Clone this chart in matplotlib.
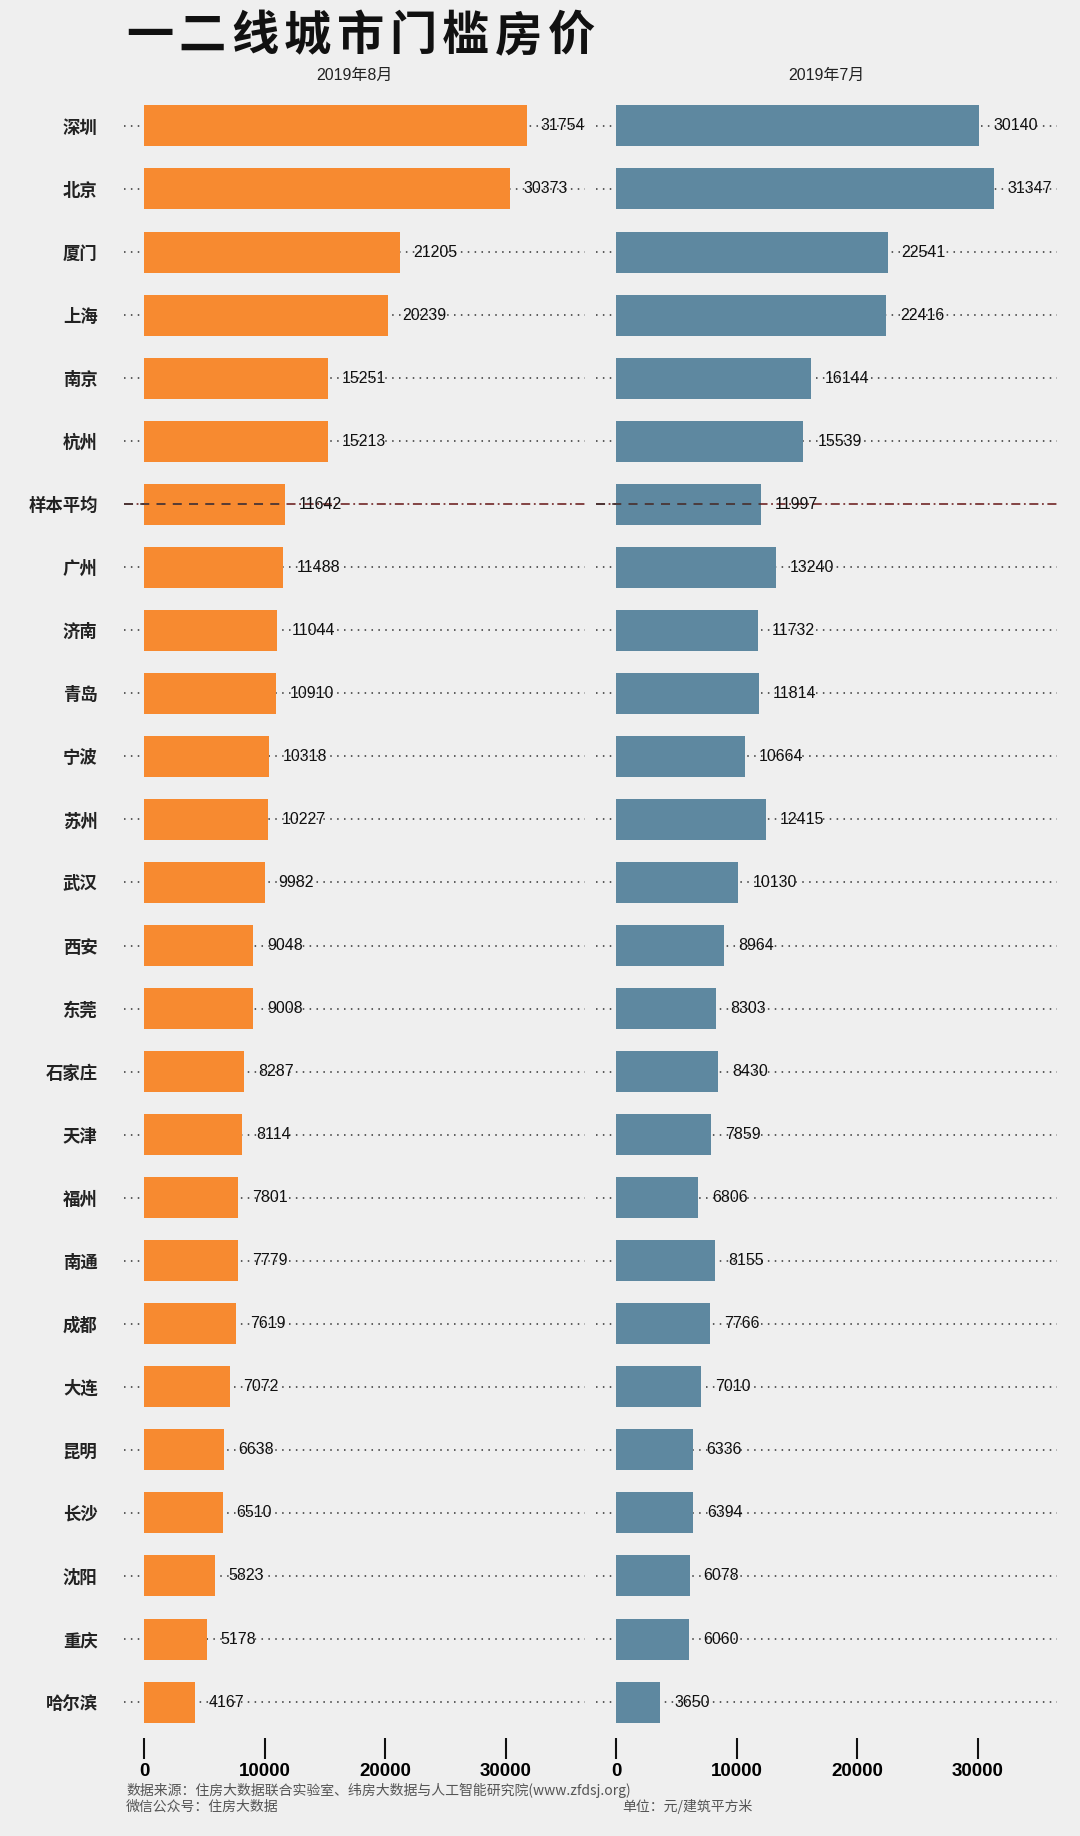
import matplotlib
matplotlib.use("Agg")
import matplotlib.pyplot as plt
import numpy as np

plt.rcParams['font.family'] = ['Noto Sans CJK SC', 'DejaVu Sans']

## 数据
cities = ['深圳', '北京', '厦门', '上海', '南京', '杭州', '样本平均', '广州', '济南', '青岛',
          '宁波', '苏州', '武汉', '西安', '东莞', '石家庄', '天津', '福州', '南通', '成都',
          '大连', '昆明', '长沙', '沈阳', '重庆', '哈尔滨']
aug = [31754, 30373, 21205, 20239, 15251, 15213, 11642, 11488, 11044, 10910,
       10318, 10227, 9982, 9048, 9008, 8287, 8114, 7801, 7779, 7619,
       7072, 6638, 6510, 5823, 5178, 4167]
jul = [30140, 31347, 22541, 22416, 16144, 15539, 11997, 13240, 11732, 11814,
       10664, 12415, 10130, 8964, 8303, 8430, 7859, 6806, 8155, 7766,
       7010, 6336, 6394, 6078, 6060, 3650]
panel_titles = ['2019年8月', '2019年7月']
xticks = [0, 10000, 20000, 30000]
avg_name = '样本平均'
title = '一二线城市门槛房价'

W, H = 1080, 1836
bg = '#efefef'
fig = plt.figure(figsize=(W / 100, H / 100), dpi=100, facecolor=bg)

y0 = 1 - 1738 / H
h = (1738 - 90) / H
ax1 = fig.add_axes([124 / W, y0, 461 / W, h])
ax2 = fig.add_axes([596 / W, y0, 461 / W, h])

pos = np.arange(len(cities))
avg_i = cities.index(avg_name)

for ax, vals, color, ttl in [(ax1, aug, '#f78a30', panel_titles[0]),
                             (ax2, jul, '#5e88a0', panel_titles[1])]:
    ax.set_facecolor(bg)
    for s in ax.spines.values():
        s.set_visible(False)
    ax.set_xlim(-1700, 36600)
    ax.set_ylim(len(cities) - 0.43, -0.57)

    ## 每行的点线
    for i in pos:
        if i == avg_i:
            continue
        ax.axhline(i, ls=(0, (1, 3.5)), color='#333333', lw=1.1, zorder=1)
    ## 样本平均的线
    ax.axhline(avg_i, ls=(0, (5, 2, 1, 2)), color='#7a3535', lw=1.3, zorder=1)

    ax.barh(pos, vals, height=0.65, color=color, zorder=2)
    ax.plot([ax.get_xlim()[0], vals[avg_i]], [avg_i, avg_i], ls=(0, (5, 4)),
            color='#4a3535', lw=1.3, zorder=3)

    for i, v in zip(pos, vals):
        ax.annotate(str(v), (v, i), xytext=(10, 0), textcoords='offset points',
                    va='center', ha='left', fontsize=11.5, family='Liberation Sans',
                    color='#111111', zorder=4)

    ax.set_xticks(xticks)
    ax.set_xticklabels([str(t) for t in xticks], family='Liberation Sans',
                       fontsize=13.5, fontweight='bold')
    ax.tick_params(axis='x', direction='out', length=15, width=1.5, pad=3, color='#111111')
    ax.set_title(ttl, fontsize=11.5, pad=7, color='#222222', family=['Liberation Sans', 'Noto Sans CJK SC'])

ax1.set_yticks(pos)
ax1.set_yticklabels(cities, fontsize=12.5, fontweight='bold', color='#222222')
ax1.tick_params(axis='y', length=0, pad=19)
ax2.set_yticks([])

## 标题, 字距拉开
for k, ch in enumerate(title):
    fig.text((126 + 52.7 * k) / W, 1 - 36 / H, ch, fontsize=34, fontweight='bold',
             va='center', ha='left', color='#111111')

fig.text(126 / W, 1 - 1790 / H, '数据来源：住房大数据联合实验室、纬房大数据与人工智能研究院(www.zfdsj.org)',
         fontsize=10, va='center', color='#555555')
fig.text(126 / W, 1 - 1807 / H, '微信公众号：住房大数据', fontsize=10, va='center', color='#555555')
fig.text(622 / W, 1 - 1807 / H, '单位：元/建筑平方米', fontsize=10, va='center', color='#555555')

plt.savefig('out.png', dpi=100, facecolor=bg)
